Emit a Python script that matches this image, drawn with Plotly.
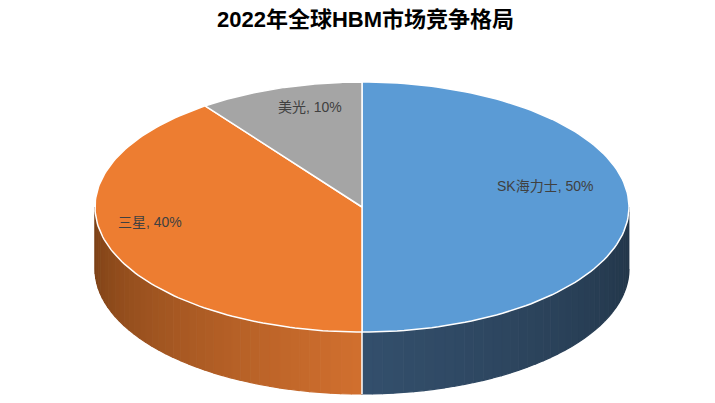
import numpy as np
import plotly.graph_objects as go

categories = ["SK海力士", "三星", "美光"]
shares = [50, 40, 10]
top_colors = ["#5b9bd5", "#ed7d31", "#a5a5a5"]
side_light = ["#34506d", "#d2702f", "#8a8a8a"]
side_dark = ["#223548", "#7a4016", "#5a5a5a"]
label_pos = [(545, 186), (150, 222), (310, 107)]

cx, cy, rx, ry, depth = 362, 207, 267, 125, 62

def pt(deg, dy=0):
    t = np.radians(deg)
    return cx + rx * np.cos(t), cy - ry * np.sin(t) + dy

def mix(c1, c2, f):
    a = [int(c1[i:i+2], 16) for i in (1, 3, 5)]
    b = [int(c2[i:i+2], 16) for i in (1, 3, 5)]
    return "#%02x%02x%02x" % tuple(int(a[k] + (b[k] - a[k]) * f) for k in range(3))

fig = go.Figure()
total = sum(shares)
bounds = []
start = 90.0
for s in shares:
    end = start - 360 * s / total
    bounds.append((start, end))
    start = end

for i, (a0, a1) in enumerate(bounds):
    for shift in (0, -360, 360):
        h, l = a0 + shift, a1 + shift
        fh, fl = min(h, 0), max(l, -180)
        if fh > fl:
            n = 40
            edges = np.linspace(fh, fl, n + 1)
            for k in range(n):
                ts = np.linspace(edges[k], edges[k + 1], 4)
                xs = [pt(t)[0] for t in ts] + [pt(t, depth)[0] for t in ts[::-1]]
                ys = [pt(t)[1] for t in ts] + [pt(t, depth)[1] for t in ts[::-1]]
                f = (k + 0.5) / n
                col = mix(side_light[i], side_dark[i], (1 - f) if i == 0 else f)
                fig.add_trace(go.Scatter(x=xs, y=ys, fill="toself", mode="lines",
                                         line=dict(width=1.2, color=col), fillcolor=col,
                                         hoverinfo="skip", showlegend=False))
x0, y0 = pt(-90); x1, y1 = pt(-90, depth)
fig.add_trace(go.Scatter(x=[x0, x1], y=[y0, y1], mode="lines",
                         line=dict(color="white", width=1.5), hoverinfo="skip", showlegend=False))

for i, (a0, a1) in enumerate(bounds):
    ts = np.linspace(a0, a1, 120)
    xs = [cx] + [pt(t)[0] for t in ts] + [cx]
    ys = [cy] + [pt(t)[1] for t in ts] + [cy]
    fig.add_trace(go.Scatter(x=xs, y=ys, fill="toself", mode="lines",
                             line=dict(color="white", width=1.5), fillcolor=top_colors[i],
                             hoverinfo="skip", showlegend=False))

for i, c in enumerate(categories):
    fig.add_annotation(x=label_pos[i][0], y=label_pos[i][1], text=f"{c}, {shares[i]}%",
                       showarrow=False, font=dict(size=14, color="#404040",
                                                  family="Liberation Sans, Noto Sans CJK SC"))

fig.update_layout(
    width=715, height=403, margin=dict(l=0, r=0, t=0, b=0),
    paper_bgcolor="white", plot_bgcolor="white",
    xaxis=dict(range=[8, 723], visible=False, fixedrange=True),
    yaxis=dict(range=[411, 8], visible=False, fixedrange=True),
    title=dict(text="<b>2022年全球HBM市场竞争格局</b>", x=0.5, y=0.99, yanchor="top", xanchor="center",
               font=dict(size=22, color="black", family="Liberation Sans, Noto Sans CJK SC")),
)
fig.write_html("out.html")
